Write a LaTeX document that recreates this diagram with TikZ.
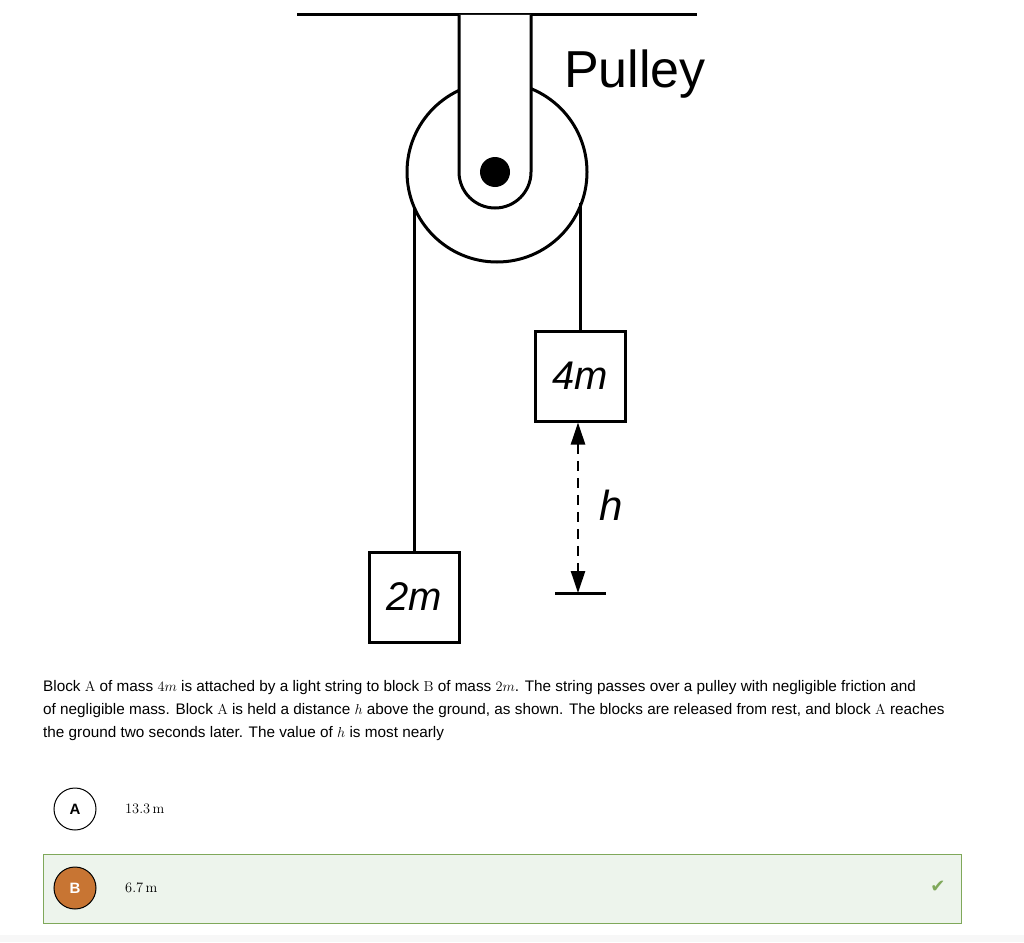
\documentclass[tikz,border=0pt]{standalone}
\usepackage[no-math]{fontspec}
\newfontfamily\lsans{Liberation Sans}
\newfontfamily\djv{DejaVu Sans}
\usetikzlibrary{arrows.meta}
\definecolor{okgreen}{HTML}{7FA85A}
\definecolor{okfill}{HTML}{EDF4EC}
\definecolor{orng}{HTML}{C87533}
\tikzset{
  ln/.style={line width=3pt,black},
  blk/.style={draw,line width=3pt,minimum width=90pt,minimum height=90pt,inner sep=0pt,font=\lsans\fontsize{40}{40}\selectfont\itshape},
  para/.style={anchor=west,inner sep=0pt,font=\lsans\fontsize{15.3}{18}\selectfont},
  opt/.style={circle,draw,line width=1pt,minimum size=42pt,inner sep=0pt,font=\lsans\bfseries\fontsize{15}{15}\selectfont},
  ans/.style={anchor=west,inner sep=0pt,font=\fontsize{14}{14}\selectfont}
}
\begin{document}
\begin{tikzpicture}[x=1pt,y=-1pt]
\useasboundingbox (0,0) rectangle (1024,942);
\fill[gray!6] (0,935) rectangle (1024,942);
% ceiling
\draw[ln] (297,15) -- (697,15);
% pulley wheel
\draw[ln] (497,172) circle (90);
\filldraw[ln,fill=white] (459,15) -- (459,172) arc[start angle=180,end angle=0,radius=36] -- (531,15);
\fill (495,172) circle (15);
\node[font=\lsans\fontsize{52}{52}\selectfont,anchor=west,inner sep=0pt] (pl) at (564,74) {Pulley};
% blocks
\node[blk] (b4) at (580,376) {4m};
\node[blk] (b2) at (414,597) {2m};
\coordinate (sl) at (414,208);
\coordinate (sr) at (580,203);
\draw[ln] (sl) -- (b2.north -| sl);
\draw[ln] (sr) -- (b4.north -| sr);
% height
\coordinate (g) at (578,593);
\draw[ln] (555,593) -- (606,593);
\draw[line width=2.5pt,dash pattern=on 10pt off 7pt,{Triangle[length=22pt,width=14pt]}-{Triangle[length=22pt,width=14pt]}] (b4.south -| g) -- (g);
\node[font=\lsans\itshape\fontsize{42}{42}\selectfont,inner sep=0pt] (h) at (611,505) {h};
% text
\node[para] (p1) at (43,688) {Block $\mathrm{A}$ of mass $4m$ is attached by a light string to block $\mathrm{B}$ of mass $2m$. The string passes over a pulley with negligible friction and};
\node[para] (p2) at (43,711) {of negligible mass. Block $\mathrm{A}$ is held a distance $h$ above the ground, as shown. The blocks are released from rest, and block $\mathrm{A}$ reaches};
\node[para] (p3) at (43,734) {the ground two seconds later. The value of $h$ is most nearly};
% options
\node[opt] (oa) at (75,809) {A};
\node[ans] (ta) at (125,809) {$13.3\,\mathrm{m}$};
\filldraw[draw=okgreen,fill=okfill,line width=1pt] (43,854) rectangle (961,923);
\node[opt,fill=orng,text=white] (ob) at (75,888) {B};
\node[ans] (tb) at (125,888) {$6.7\,\mathrm{m}$};
\node[text=okgreen,font=\djv\fontsize{18}{18}\selectfont,inner sep=0pt] (ck) at (938,887) {✔};
\end{tikzpicture}
\end{document}
